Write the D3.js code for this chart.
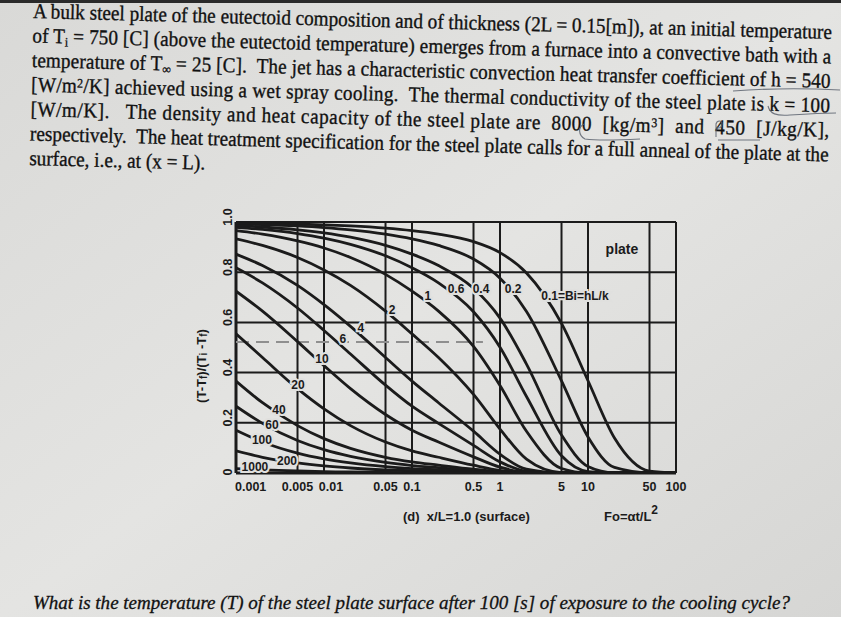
<!DOCTYPE html>
<html><head><meta charset="utf-8">
<script src="https://cdn.jsdelivr.net/npm/d3@7/dist/d3.min.js"></script>
<style>html,body{margin:0;padding:0;background:#dcdcda;}svg{display:block;}</style>
</head><body>
<svg id="c" width="841" height="617"></svg>
<script>
// ---------------- data ----------------
const foValues = [0.001,0.002,0.005,0.01,0.02,0.05,0.1,0.2,0.5,1,2,5,10,20,50,100];
const biLabels = ["0.1","0.2","0.4","0.6","1","2","4","6","10","20","40","60","100","200","1000"];
const thetaBi0_1 = [0.9964,0.9950,0.9921,0.9888,0.9842,0.9753,0.9653,0.9515,0.9216,0.8781,0.7971,0.5962,0.3675,0.1396,0.0077,0.0001];
const thetaBi0_2 = [0.9929,0.9900,0.9842,0.9778,0.9689,0.9515,0.9326,0.9066,0.8523,0.7761,0.6435,0.3669,0.1438,0.0221,0.0001,0];
const thetaBi0_4 = [0.9859,0.9801,0.9689,0.9565,0.9393,0.9066,0.8720,0.8267,0.7358,0.6171,0.4340,0.1510,0.0260,0.0008,0,0];
const thetaBi0_6 = [0.9789,0.9704,0.9539,0.9359,0.9109,0.8653,0.8176,0.7575,0.6423,0.5010,0.3047,0.0686,0.0057,0,0,0];
const thetaBi1   = [0.9653,0.9515,0.9248,0.8965,0.8587,0.7914,0.7243,0.6448,0.5041,0.3482,0.1661,0.0180,0.0004,0,0,0];
const thetaBi2   = [0.9326,0.9066,0.8587,0.8090,0.7474,0.6448,0.5542,0.4601,0.3129,0.1752,0.0549,0.0017,0,0,0,0];
const thetaBi4   = [0.8720,0.8267,0.7474,0.6708,0.5842,0.4601,0.3662,0.2800,0.1666,0.0749,0.0151,0.0001,0,0,0,0];
const thetaBi6   = [0.8176,0.7575,0.6574,0.5678,0.4742,0.3500,0.2660,0.1977,0.1101,0.0443,0.0072,0,0,0,0,0];
const thetaBi10  = [0.7243,0.6448,0.5233,0.4276,0.3360,0.2330,0.1705,0.1234,0.0643,0.0232,0.0030,0,0,0,0,0];
const thetaBi20  = [0.5542,0.4601,0.3360,0.2554,0.1888,0.1234,0.0881,0.0627,0.0309,0.0101,0.0011,0,0,0,0,0];
const thetaBi40  = [0.3662,0.2800,0.1888,0.1370,0.0982,0.0627,0.0445,0.0315,0.0150,0.0047,0.0004,0,0,0,0,0];
const thetaBi60  = [0.2660,0.1977,0.1296,0.0928,0.0660,0.0420,0.0297,0.0210,0.0099,0.0030,0.0003,0,0,0,0,0];
const thetaBi100 = [0.1705,0.1234,0.0790,0.0561,0.0399,0.0252,0.0178,0.0126,0.0059,0.0018,0.0002,0,0,0,0,0];
const thetaBi200 = [0.0881,0.0627,0.0399,0.0282,0.0199,0.0126,0.0089,0.0063,0.0029,0.0009,0.0001,0,0,0,0,0];
const thetaBi1000= [0.0178,0.0126,0.0080,0.0056,0.0040,0.0025,0.0018,0.0013,0.0006,0.0002,0,0,0,0,0,0];
const thetaSeries = [thetaBi0_1,thetaBi0_2,thetaBi0_4,thetaBi0_6,thetaBi1,thetaBi2,thetaBi4,thetaBi6,thetaBi10,thetaBi20,thetaBi40,thetaBi60,thetaBi100,thetaBi200,thetaBi1000];
// curve label texts and where they sit (Fo, theta)
const curveLabelText = ["0.1=Bi=hL/k","0.2","0.4","0.6","1","2","4","6","10","20","40","60","100","200","1000"];
const curveLabelFo    = [7.11,1.41,0.608,0.316,0.151,0.0593,0.0263,0.0164,0.0095,0.00507,0.00308,0.00256,0.00197,0.0038,0.00164];
const curveLabelTheta = [0.705,0.733,0.733,0.733,0.705,0.649,0.578,0.534,0.454,0.351,0.251,0.191,0.131,0.048,0.024];
const xTicks = [0.001,0.005,0.01,0.05,0.1,0.5,1,5,10,50,100];
const xTickLabels = ["0.001","0.005","0.01","0.05","0.1","0.5","1","5","10","50","100"];
const yTicks = [0,0.2,0.4,0.6,0.8,1.0];
const yTickLabels = ["0","0.2","0.4","0.6","0.8","1.0"];
const dashedTheta = 0.522, dashedFoEnd = 0.64;

const textLines = [
  [["A bulk steel plate of the eutectoid composition and of thickness (2L = 0.15[m]), at an initial temperature",""]],
  [["of T",""],["i","sub"],[" = 750 [C] (above the eutectoid temperature) emerges from a furnace into a convective bath with a",""]],
  [["temperature of T",""],["\u221e","sub"],[" = 25 [C].  The jet has a characteristic convection heat transfer coefficient of h = 540",""]],
  [["[W/m",""],["2","sup"],["/K] achieved using a wet spray cooling.  The thermal conductivity of the steel plate is k = 100",""]],
  [["[W/m/K].   The density and heat capacity of the steel plate are  8000  [kg/m",""],["3","sup"],["]  and  450  [J/kg/K],",""]],
  [["respectively.  The heat treatment specification for the steel plate calls for a full anneal of the plate at the",""]],
  [["surface, i.e., at (x = L).",""]]
];
const question = "What is the temperature (T) of the steel plate surface after 100 [s] of exposure to the cooling cycle?";

// ---------------- drawing ----------------
const svg = d3.select("#c");
const defs = svg.append("defs");
const bg = defs.append("linearGradient").attr("id","paper").attr("x1","0").attr("y1","0").attr("x2","1").attr("y2","1");
bg.append("stop").attr("offset","0").attr("stop-color","#d9d9d7");
bg.append("stop").attr("offset","0.5").attr("stop-color","#e4e4e2");
bg.append("stop").attr("offset","1").attr("stop-color","#d6d6d4");
svg.append("rect").attr("width",841).attr("height",617).attr("fill","url(#paper)");
svg.append("rect").attr("width",841).attr("height",3).attr("fill","#2a2a2a");
const paper = "#e0e0de";

// paragraph text
const tg = svg.append("g").attr("transform","rotate(1.5,33,18)")
  .style("font-family","'Liberation Serif','Times New Roman',serif").style("font-size","21px")
  .attr("fill","#111").attr("stroke","#111").attr("stroke-width",0.35);
const left = 33, target = 799;
const nodes = [];
textLines.forEach((parts,i)=>{
  const t = tg.append("text").attr("x",0).attr("y",0).attr("xml:space","preserve").style("white-space","pre");
  parts.forEach(p=>{
    const s = t.append("tspan").text(p[0]);
    if(p[1]==="sub") s.attr("baseline-shift","-25%").style("font-size","13px");
    if(p[1]==="sup") s.attr("baseline-shift","45%").style("font-size","13px");
  });
  nodes.push(t);
});
const widths = nodes.map(n=>n.node().getComputedTextLength());
let sc = d3.min(widths.slice(0,6).map(w=>target/w));
nodes.forEach((t,i)=>{
  const y = 18 + i*24.5;
  t.attr("transform",`translate(${left},${y}) scale(${sc},1)`);
  if(i<6) t.attr("textLength",target/sc).attr("lengthAdjust","spacing");
});

// hand-drawn pen marks
const pen = svg.append("g").attr("fill","none").attr("stroke","#5d6470").attr("stroke-width",1.1).attr("opacity",0.85);
pen.append("path").attr("d","M733,91 C760,89 800,88 840,90");
pen.append("path").attr("d","M768,106 C770,114 776,116 790,115 C805,114 820,113 836,113");
pen.append("path").attr("d","M584,124 C578,127 578,135 585,139 C600,141 620,140 640,139");
pen.append("path").attr("d","M716,137 L716,124 C717,120 722,120 722,124 C722,128 718,129 716,127 M718,140 C730,140 745,140 760,140");

// chart
const x = d3.scaleLog().domain([0.001,100]).range([236,676]);
const y = d3.scaleLinear().domain([0,1]).range([473,222]);
const ink = "#1b1b1b";
const grid = svg.append("g").attr("stroke",ink).attr("stroke-width",2);
grid.selectAll("line.v").data(xTicks).join("line").attr("class","v")
  .attr("x1",d=>x(d)).attr("x2",d=>x(d)).attr("y1",y(1)).attr("y2",y(0));
grid.selectAll("line.h").data(yTicks).join("line").attr("class","h")
  .attr("x1",x(0.001)).attr("x2",x(100)).attr("y1",d=>y(d)).attr("y2",d=>y(d))
  .attr("stroke-width",d=>d===0?3:2);
grid.append("line").attr("x1",x(0.001)).attr("x2",x(0.001)).attr("y1",y(1)).attr("y2",y(0)).attr("stroke-width",3);

// dashed guide
svg.append("line").attr("x1",x(0.001)).attr("x2",x(dashedFoEnd)).attr("y1",y(dashedTheta)).attr("y2",y(dashedTheta))
  .attr("stroke","#8f8f8f").attr("stroke-width",2).attr("stroke-dasharray","13,7");

defs.append("clipPath").attr("id","plot").append("rect").attr("x",x(0.001)).attr("y",y(1)-2).attr("width",x(100)-x(0.001)).attr("height",y(0)-y(1)+3);
const line = d3.line().x((d,i)=>x(foValues[i])).y(d=>y(d)).curve(d3.curveMonotoneX);
svg.append("g").attr("clip-path","url(#plot)").selectAll("path").data(thetaSeries).join("path")
  .attr("d",d=>line(d)).attr("fill","none").attr("stroke",ink).attr("stroke-width",2.8);

// curve labels
const sans = "'Liberation Sans',Arial,Helvetica,sans-serif";
svg.append("g").selectAll("text").data(curveLabelText).join("text")
  .attr("x",(d,i)=>x(curveLabelFo[i])).attr("y",(d,i)=>y(curveLabelTheta[i]))
  .attr("text-anchor","middle").attr("dominant-baseline","central")
  .style("font-family",sans).style("font-size","12px").style("font-weight","bold")
  .attr("fill",ink).attr("stroke",paper).attr("stroke-width",4).attr("paint-order","stroke")
  .text(d=>d);
svg.append("text").attr("x",x(24.3)).attr("y",y(0.892)).attr("text-anchor","middle").attr("dominant-baseline","central")
  .style("font-family",sans).style("font-size","14px").style("font-weight","bold").attr("fill",ink).text("plate");

// x tick labels
svg.append("g").selectAll("text").data(xTicks).join("text")
  .attr("x",(d,i)=>x(d)+(i===0?-1:(i===2?7:0)))
  .attr("y",491).attr("text-anchor",(d,i)=>i===0?"start":"middle")
  .style("font-family",sans).style("font-size","12.5px").style("font-weight","bold").attr("fill",ink)
  .text((d,i)=>xTickLabels[i]);
// y tick labels (rotated)
svg.append("g").selectAll("text").data(yTicks).join("text")
  .attr("transform",d=>`translate(228,${y(d)-(d===0?1:5)}) rotate(-90)`)
  .attr("text-anchor","middle").attr("dominant-baseline","central")
  .style("font-family",sans).style("font-size","12.5px").style("font-weight","bold").attr("fill",ink)
  .text((d,i)=>yTickLabels[i]);
// y title
const yt = svg.append("text").attr("transform","translate(201,366) rotate(-90)").attr("text-anchor","middle")
  .attr("dominant-baseline","central").style("font-family",sans).style("font-size","13px").style("font-weight","bold").attr("fill",ink);
yt.append("tspan").text("(T-T");
yt.append("tspan").text("f").attr("baseline-shift","-25%").style("font-size","10px");
yt.append("tspan").text(")/(T");
yt.append("tspan").text("i").attr("baseline-shift","-25%").style("font-size","10px");
yt.append("tspan").text(" -T");
yt.append("tspan").text("f").attr("baseline-shift","-25%").style("font-size","10px");
yt.append("tspan").text(")");
// captions
svg.append("text").attr("x",403).attr("y",521).style("font-family",sans).style("font-size","13px").style("font-weight","bold")
  .attr("fill",ink).attr("xml:space","preserve").style("white-space","pre").text("(d)  x/L=1.0 (surface)");
const fo = svg.append("text").attr("x",604).attr("y",521).style("font-family",sans).style("font-size","13px").style("font-weight","bold").attr("fill",ink);
fo.append("tspan").text("Fo=\u03b1t/L");
fo.append("tspan").text("2").attr("baseline-shift","55%").style("font-size","12px");

// question
svg.append("text").attr("x",33).attr("y",609).attr("textLength",757).attr("lengthAdjust","spacingAndGlyphs")
  .style("font-family","'Liberation Serif','Times New Roman',serif").style("font-size","19px").style("font-style","italic")
  .attr("fill","#111").attr("stroke","#111").attr("stroke-width",0.3).text(question);
</script>
</body></html>
